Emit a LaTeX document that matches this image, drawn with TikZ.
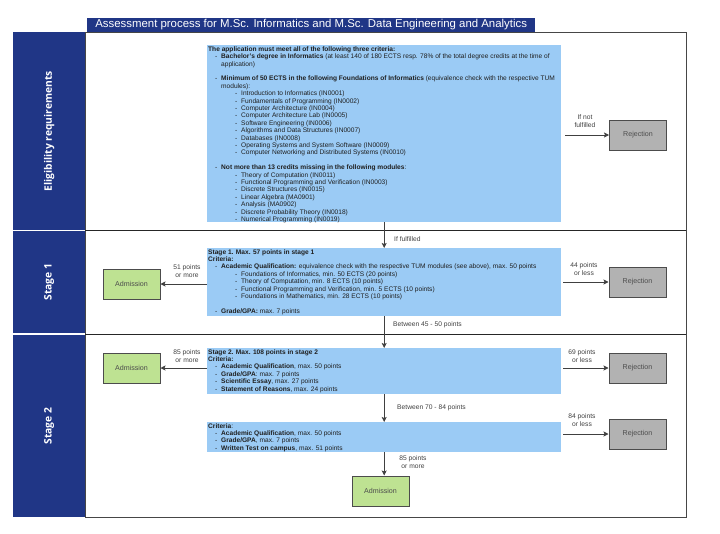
\documentclass[tikz,border=0pt]{standalone}
\usepackage{fontspec}
\setmainfont{Liberation Sans}
\newfontfamily\bandfont{Open Sans}
\usetikzlibrary{arrows.meta}

\definecolor{tumblue}{RGB}{32,54,134}
\definecolor{critblue}{RGB}{155,203,245}
\definecolor{admgreen}{RGB}{190,226,146}
\definecolor{rejgrey}{RGB}{178,178,178}
\definecolor{framegrey}{RGB}{70,70,70}

\newcommand{\bl}{\hspace*{7pt}\makebox[6pt][l]{-}}
\newcommand{\bll}{\hspace*{27pt}\makebox[6pt][l]{-}}
\newcommand{\cont}{\hspace*{13pt}}

\tikzset{
  band/.style={fill=tumblue, draw=none, anchor=north west, inner sep=0pt},
  bandtext/.style={text=white, rotate=90, font=\bandfont\bfseries\fontsize{10.3}{12}\selectfont},
  critbox/.style={fill=critblue, draw=none, anchor=north west, inner sep=0pt},
  boxtext/.style={anchor=north west, inner sep=0pt, align=left, text=black!88,
    font=\fontsize{6.6}{7.4}\selectfont},
  endbox/.style={draw=black!70, line width=1pt, minimum width=57pt, minimum height=30pt,
    text=black!70, font=\fontsize{7.1}{8}\selectfont},
  note/.style={text=black!75, align=center, inner sep=0pt, font=\fontsize{6.7}{7.4}\selectfont},
  arr/.style={draw=black!75, line width=0.8pt, -{Stealth[length=5pt,width=5pt,inset=1pt]}}
}

\begin{document}
\begin{tikzpicture}[x=1pt,y=-1pt]

\useasboundingbox (0,0) rectangle (720,533);

% title and frame
\node(title) at (87,18) [fill=tumblue, anchor=north west, minimum width=448pt, minimum height=13.5pt, inner sep=0pt, text=white, font=\fontsize{11.4}{12}\selectfont] {Assessment process for M.Sc. Informatics and M.Sc. Data Engineering and Analytics};
\draw[framegrey, line width=1pt] (85,32) rectangle (686,517);
\draw[black!85, line width=1pt] (85,230) -- (686,230);
\draw[black!85, line width=1pt] (85,334) -- (686,334);

% left bands
\node(bandelig) at (13,32) [band, minimum width=72pt, minimum height=198pt] {};
\node(bandone) at (13,231) [band, minimum width=72pt, minimum height=102pt] {};
\node(bandtwo) at (13,335) [band, minimum width=72pt, minimum height=182pt] {};
\node(telig) at (bandelig.center) [bandtext] {Eligibility requirements};
\node(tone) at (bandone.center) [bandtext] {Stage 1};
\node(ttwo) at (bandtwo.center) [bandtext] {Stage 2};

% eligibility
\node(elig) at (207,45) [critbox, minimum width=354pt, minimum height=177pt] {};
\node(eligtext) at (208,46.3) [boxtext] {\textbf{The application must meet all of the following three criteria:}\\
\bl\textbf{Bachelor's degree in Informatics} (at least 140 of 180 ECTS resp. 78\% of the total degree credits at the time of\\
\cont application)\\[7.4pt]
\bl\textbf{Minimum of 50 ECTS in the following Foundations of Informatics} (equivalence check with the respective TUM\\
\cont modules):\\
\bll Introduction to Informatics (IN0001)\\
\bll Fundamentals of Programming (IN0002)\\
\bll Computer Architecture (IN0004)\\
\bll Computer Architecture Lab (IN0005)\\
\bll Software Engineering (IN0006)\\
\bll Algorithms and Data Structures (IN0007)\\
\bll Databases (IN0008)\\
\bll Operating Systems and System Software (IN0009)\\
\bll Computer Networking and Distributed Systems (IN0010)\\[7.4pt]
\bl\textbf{Not more than 13 credits missing in the following modules}:\\
\bll Theory of Computation (IN0011)\\
\bll Functional Programming and Verification (IN0003)\\
\bll Discrete Structures (IN0015)\\
\bll Linear Algebra (MA0901)\\
\bll Analysis (MA0902)\\
\bll Discrete Probability Theory (IN0018)\\
\bll Numerical Programming (IN0019)};
\node(rejelig) at (638,135) [endbox, fill=rejgrey] {Rejection};
\node(lelig) at (585,121) [note] {If not\\fulfilled};

% stage 1
\node(stageone) at (207,248) [critbox, minimum width=354pt, minimum height=68pt] {};
\node(onetext) at (208,249.2) [boxtext] {\textbf{Stage 1. Max. 57 points in stage 1}\\
\textbf{Criteria:}\\
\bl\textbf{Academic Qualification:} equivalence check with the respective TUM modules (see above), max. 50 points\\
\bll Foundations of Informatics, min. 50 ECTS (20 points)\\
\bll Theory of Computation, min. 8 ECTS (10 points)\\
\bll Functional Programming and Verification, min. 5 ECTS (10 points)\\
\bll Foundations in Mathematics, min. 28 ECTS (10 points)\\[7.4pt]
\bl\textbf{Grade/GPA:} max. 7 points};
\node(admone) at (131.5,284) [endbox, fill=admgreen] {Admission};
\node(rejone) at (637.5,282) [endbox, fill=rejgrey] {Rejection};
\node(lfulfil) at (394,239) [note, anchor=west] {If fulfilled};
\node(ladmone) at (187,271) [note] {51 points\\or more};
\node(lrejone) at (584,269) [note] {44 points\\or less};
\node(lbetween) at (393,325) [note, anchor=west] {Between 45 - 50 points};

% stage 2
\node(stagetwo) at (207,348) [critbox, minimum width=354pt, minimum height=46pt] {};
\node(twotext) at (208,349.2) [boxtext] {\textbf{Stage 2. Max. 108 points in stage 2}\\
\textbf{Criteria:}\\
\bl\textbf{Academic Qualification}, max. 50 points\\
\bl\textbf{Grade/GPA}: max. 7 points\\
\bl\textbf{Scientific Essay}, max. 27 points\\
\bl\textbf{Statement of Reasons}, max. 24 points};
\node(stagetest) at (207,422) [critbox, minimum width=354pt, minimum height=30pt] {};
\node(testtext) at (208,423.2) [boxtext] {\textbf{Criteria}:\\
\bl\textbf{Academic Qualification}, max. 50 points\\
\bl\textbf{Grade/GPA}, max. 7 points\\
\bl\textbf{Written Test on campus}, max. 51 points};
\node(admtwo) at (131.5,368) [endbox, fill=admgreen] {Admission};
\node(rejtwo) at (637.5,368) [endbox, fill=rejgrey] {Rejection};
\node(rejtest) at (637.5,434) [endbox, fill=rejgrey] {Rejection};
\node(admtest) at (380.5,491) [endbox, fill=admgreen] {Admission};
\node(ladmtwo) at (187,356) [note] {85 points\\or more};
\node(lrejtwo) at (582,356) [note] {69 points\\or less};
\node(lmiddle) at (397,408) [note, anchor=west] {Between 70 - 84 points};
\node(lrejtest) at (582,420) [note] {84 points\\or less};
\node(ladmtest) at (413,462) [note] {85 points\\or more};

% arrows
\draw[arr] (elig.south) -- (stageone.north);
\draw[arr, shorten <=4pt] (elig.east |- rejelig.west) -- (rejelig.west);
\draw[arr] (stageone.west |- admone.east) -- (admone.east);
\draw[arr, shorten <=2pt] (stageone.east |- rejone.west) -- (rejone.west);
\draw[arr] (stageone.south) -- (stagetwo.north);
\draw[arr] (stagetwo.west |- admtwo.east) -- (admtwo.east);
\draw[arr, shorten <=2pt] (stagetwo.east |- rejtwo.west) -- (rejtwo.west);
\draw[arr] (stagetwo.south) -- (stagetest.north);
\draw[arr, shorten <=2pt] (stagetest.east |- rejtest.west) -- (rejtest.west);
\draw[arr] (stagetest.south) -- (stagetest.south |- admtest.north);

\end{tikzpicture}
\end{document}
